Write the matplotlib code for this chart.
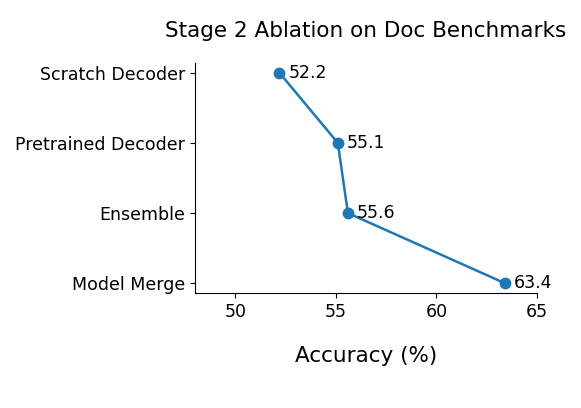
import matplotlib
matplotlib.use("Agg")
import matplotlib.pyplot as plt

categories = ["Scratch Decoder", "Pretrained Decoder", "Ensemble", "Model Merge"]
accuracy = [52.2, 55.1, 55.6, 63.4]
xticks = [50, 55, 60, 65]

fig = plt.figure(figsize=(5.81, 4.08), dpi=100)
ax = fig.add_axes([195/581, (408-293)/408, (537-195)/581, (293-63)/408])

ypos = list(range(len(categories)))
ax.plot(accuracy, ypos, color="#1f77b4", linewidth=1.8, marker="o", markersize=7.5)
for x, y in zip(accuracy, ypos):
    ax.annotate(f"{x:.1f}", (x, y), xytext=(6.5, 0), textcoords="offset points",
                va="center", ha="left", fontsize=12.5)

ax.set_yticks(ypos)
ax.set_yticklabels(categories, fontsize=12.5)
ax.set_xticks(xticks)
ax.set_xticklabels([str(t) for t in xticks], fontsize=12.5)
ax.set_xlim(48, 65)
ax.set_ylim(3.14, -0.14)
ax.spines["top"].set_visible(False)
ax.spines["right"].set_visible(False)
ax.set_xlabel("Accuracy (%)", fontsize=15.5, labelpad=18.5)
ax.set_title("Stage 2 Ablation on Doc Benchmarks", fontsize=15.5, pad=18.5)

fig.savefig("out.png", dpi=100)
